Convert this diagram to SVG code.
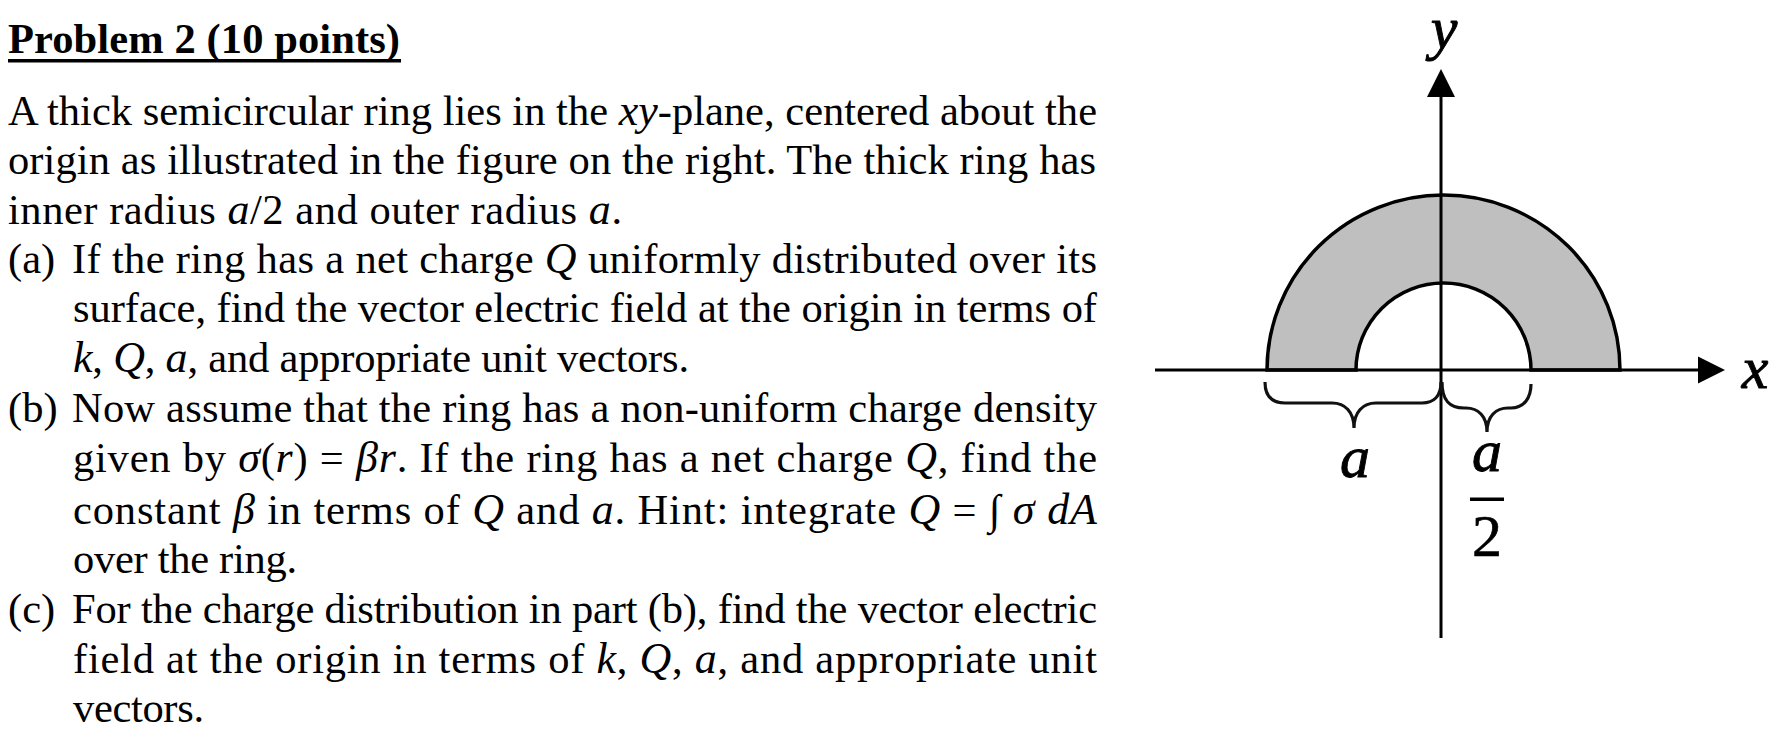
<svg xmlns="http://www.w3.org/2000/svg" width="1792" height="750" viewBox="0 0 1792 750">
<style>
text{font-family:"Liberation Serif","Times New Roman",serif;fill:#000}
.b{font-size:42.500px}
.t{font-size:42.500px;font-weight:bold}
.m{font-style:italic;font-size:44px}
.l{font-family:"Liberation Serif",serif;font-style:italic;font-size:60px;stroke:#000;stroke-width:.9}
.n{font-size:60px;stroke:#000;stroke-width:.6}
.ax{fill:none;stroke:#000;stroke-width:3}
.ring{fill:#bfbfbf;stroke:#000;stroke-width:3.500}
.br{fill:none;stroke:#111;stroke-width:3.200}
</style>
<rect width="1792" height="750" fill="#fff"/>
<g id="problem-text">
<text class="t" x="8" y="53" textLength="392">Problem 2 (10 points)</text>
<rect x="8" y="59" width="393" height="3.500"/>
<text class="b" x="8" y="125" textLength="1089">A thick semicircular ring lies in the <tspan class="m">xy</tspan>-plane, centered about the</text>
<text class="b" x="8" y="174" textLength="1088">origin as illustrated in the figure on the right. The thick ring has</text>
<text class="b" x="8" y="224" textLength="614">inner radius <tspan class="m">a</tspan>/2 and outer radius <tspan class="m">a</tspan>.</text>
<text class="b" x="8" y="273">(a)</text>
<text class="b" x="72" y="273" textLength="1025">If the ring has a net charge <tspan class="m">Q</tspan> uniformly distributed over its</text>
<text class="b" x="73" y="322" textLength="1024">surface, find the vector electric field at the origin in terms of</text>
<text class="b" x="73" y="372" textLength="616"><tspan class="m">k</tspan>, <tspan class="m">Q</tspan>, <tspan class="m">a</tspan>, and appropriate unit vectors.</text>
<text class="b" x="8" y="422">(b)</text>
<text class="b" x="72" y="422" textLength="1025">Now assume that the ring has a non-uniform charge density</text>
<text class="b" x="73" y="472" textLength="1024">given by <tspan class="m">σ</tspan>(<tspan class="m">r</tspan>) = <tspan class="m">βr</tspan>. If the ring has a net charge <tspan class="m">Q</tspan>, find the</text>
<text class="b" x="73" y="524" textLength="1024">constant <tspan class="m">β</tspan> in terms of <tspan class="m">Q</tspan> and <tspan class="m">a</tspan>. Hint: integrate <tspan class="m">Q</tspan> = ∫ <tspan class="m">σ dA</tspan></text>
<text class="b" x="73" y="573" textLength="224">over the ring.</text>
<text class="b" x="8" y="623">(c)</text>
<text class="b" x="72" y="623" textLength="1025">For the charge distribution in part (b), find the vector electric</text>
<text class="b" x="73" y="673" textLength="1024">field at the origin in terms of <tspan class="m">k</tspan>, <tspan class="m">Q</tspan>, <tspan class="m">a</tspan>, and appropriate unit</text>
<text class="b" x="73" y="722" textLength="131">vectors.</text>
</g>
<g id="ring">
<path class="ring" d="M1267 370A176.500 175 0 0 1 1620 370H1531A87.500 87 0 0 0 1356 370Z"/>
</g>
<g id="connectors">
<path class="ax" d="M1441 97V638"/>
<path d="M1441 69L1455 97H1427Z"/>
<path class="ax" d="M1155 370H1699"/>
<path d="M1725 370L1698 356.500V383.500Z"/>
<path class="br" d="M1265 382C1265 396 1272 403 1285 403H1332C1345 403 1354 412 1354 428C1354 412 1363 403 1376 403H1422C1434 403 1441 396 1441 382"/>
<path class="br" d="M1442 382C1442 400 1449 408 1464 408H1466C1478 408 1487 416 1487 432C1487 416 1496 408 1508 408H1511C1524 408 1531 398 1531 384"/>
<rect x="1470" y="497.500" width="34" height="3.500"/>
</g>
<g id="label-y"><text class="l" x="1444" y="48" text-anchor="middle">y</text></g>
<g id="label-x"><text class="l" x="1755" y="388" text-anchor="middle">x</text></g>
<g id="label-a"><text class="l" x="1355" y="477" text-anchor="middle">a</text></g>
<g id="label-a2">
<text class="l" x="1487" y="471" text-anchor="middle">a</text>
<text class="n" x="1487" y="556" text-anchor="middle">2</text>
</g>
</svg>
